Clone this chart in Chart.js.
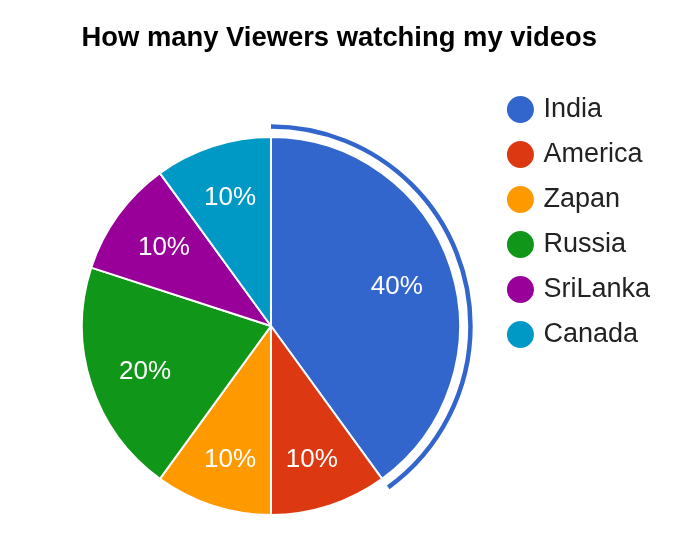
<!DOCTYPE html>
<html>
<head>
<meta charset="utf-8">
<script src="https://cdn.jsdelivr.net/npm/chart.js@4"></script>
<style>
	body { margin: 0; background: #fff; }
</style>
</head>
<body>
<canvas id="viewers-chart" width="695" height="557"></canvas>
<script>
const chart_title = 'How many Viewers watching my videos';
const countries = ['India', 'America', 'Zapan', 'Russia', 'SriLanka', 'Canada'];
const viewers = [40, 10, 10, 20, 10, 10];
const slice_colors = ['#3366cc', '#dc3912', '#ff9900', '#109618', '#990099', '#0099c6'];
const selected_slice = 0;

const font_family = "'Liberation Sans', Arial, sans-serif";

// title sits left-aligned with the pie, like google charts does it
const titlePlugin = {
	id: 'gTitle',
	afterDraw(chart) {
		const arc = chart.getDatasetMeta(0).data[0];
		const ctx = chart.ctx;
		ctx.save();
		ctx.font = 'bold 27.4px ' + font_family;
		ctx.fillStyle = '#000';
		ctx.textAlign = 'left';
		ctx.textBaseline = 'middle';
		ctx.fillText(chart_title, arc.x - arc.outerRadius - 0.5, 38);
		ctx.restore();
	}
};

// percent text inside each slice + ring around the selected one
const sliceLabels = {
	id: 'sliceLabels',
	afterDatasetsDraw(chart) {
		const meta = chart.getDatasetMeta(0);
		const total = viewers.reduce((a, b) => a + b, 0);
		const ctx = chart.ctx;
		ctx.save();
		ctx.font = '26px ' + font_family;
		ctx.fillStyle = '#fff';
		ctx.textAlign = 'center';
		ctx.textBaseline = 'middle';
		meta.data.forEach((arc, i) => {
			const mid = (arc.startAngle + arc.endAngle) / 2;
			const rx = arc.outerRadius * 0.7;
			const ry = arc.outerRadius * 0.73;
			ctx.fillText(Math.round(viewers[i] / total * 100) + '%', arc.x + Math.cos(mid) * rx, arc.y + Math.sin(mid) * ry + 3);
		});

		const sel = meta.data[selected_slice];
		ctx.beginPath();
		ctx.arc(sel.x, sel.y, sel.outerRadius + 10.5, sel.startAngle, sel.endAngle);
		ctx.lineWidth = 4.5;
		ctx.strokeStyle = slice_colors[selected_slice];
		ctx.stroke();
		ctx.restore();
	}
};

const ctx = document.getElementById('viewers-chart').getContext('2d');
const viewers_chart = new Chart(ctx, {
	type: 'pie',
	data: {
		labels: countries,
		datasets: [{
			data: viewers,
			backgroundColor: slice_colors,
			borderColor: '#fff',
			borderWidth: 2
		}]
	},
	options: {
		responsive: false,
		animation: false,
		events: [],
		radius: 189,
		layout: {
			padding: { top: 78, bottom: 0, left: 49, right: 35 }
		},
		plugins: {
			title: { display: false },
			// empty box above the pie only, pushes the pie down but not the legend
			subtitle: {
				display: true,
				text: '',
				fullSize: false,
				padding: 0,
				font: { size: 14.17, lineHeight: 1.2 }
			},
			tooltip: { enabled: false },
			legend: {
				position: 'right',
				align: 'start',
				labels: {
					usePointStyle: true,
					pointStyle: 'circle',
					boxWidth: 19,
					boxHeight: 20.5,
					padding: 18,
					color: '#222',
					font: { family: font_family, size: 27 }
				}
			}
		}
	},
	plugins: [sliceLabels, titlePlugin]
});
</script>
</body>
</html>
